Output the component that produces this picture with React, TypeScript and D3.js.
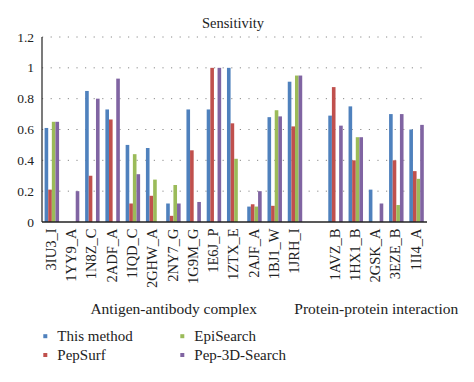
import React from "react";
import * as d3 from "d3";

const antigenCategories = ["3IU3_I", "1YY9_A", "1N8Z_C", "2ADF_A", "1IQD_C", "2GHW_A", "2NY7_G", "1G9M_G", "1E6J_P", "1ZTX_E", "2AJF_A", "1BJ1_W", "1JRH_I"];
const ppiCategories = ["1AVZ_B", "1HX1_B", "2GSK_A", "3EZE_B", "1II4_A"];
const categories = [...antigenCategories, ...ppiCategories];

const seriesNames = ["This method", "PepSurf", "EpiSearch", "Pep-3D-Search"];
const seriesColors = ["#4F81BD", "#C0504D", "#9BBB59", "#8064A2"];

const thisMethod = [0.61, 0, 0.85, 0.73, 0.5, 0.48, 0.12, 0.73, 0.73, 1.0, 0.1, 0.68, 0.91, 0.69, 0.75, 0.21, 0.7, 0.6];
const pepSurf = [0.21, 0, 0.3, 0.665, 0.12, 0.17, 0.04, 0.465, 1.0, 0.64, 0.115, 0.105, 0.62, 0.875, 0.4, 0, 0.4, 0.33];
const epiSearch = [0.65, 0, 0, 0, 0.44, 0.275, 0.24, 0, 0, 0.41, 0.1, 0.725, 0.95, 0, 0.55, 0, 0.11, 0.28];
const pep3DSearch = [0.65, 0.2, 0.8, 0.93, 0.31, 0, 0.12, 0.13, 1.0, 0, 0.2, 0.685, 0.95, 0.625, 0.55, 0.12, 0.7, 0.63];
const seriesValues = [thisMethod, pepSurf, epiSearch, pep3DSearch];

const yTicks = [0, 0.2, 0.4, 0.6, 0.8, 1, 1.2];
const groupLabels = ["Antigen-antibody complex", "Protein-protein interaction"];

const W = 474;
const H = 382;
const left = 42;
const right = 427;
const top = 37;
const bottom = 222;
const FONT = "'Liberation Serif', 'Times New Roman', Times, serif";

export default function App() {
  const slots = [...antigenCategories, "__gap__", ...ppiCategories];
  const x0 = d3.scaleBand<string>().domain(slots).range([left, right]).paddingInner(0).paddingOuter(0);
  const bw = x0.bandwidth();
  const x1 = d3.scaleBand<string>().domain(seriesNames).range([2.6, bw - 3.2]);
  const y = d3.scaleLinear().domain([0, 1.2]).range([bottom, top]);

  const antCenter = ((x0(antigenCategories[0]) ?? 0) + (x0(antigenCategories[antigenCategories.length - 1]) ?? 0) + bw) / 2;
  const ppiCenter = ((x0(ppiCategories[0]) ?? 0) + (x0(ppiCategories[ppiCategories.length - 1]) ?? 0) + bw) / 2;

  return (
    <svg width={W} height={H} style={{ position: "absolute", left: 0, top: 0, background: "#fff", fontFamily: FONT }}>
      <rect x={0} y={0} width={W} height={H} fill="#fff" />
      <text x={233} y={28} textAnchor="middle" fontSize={14.5} fill="#222">Sensitivity</text>
      {yTicks.filter((t) => t > 0).map((t) => (
        <line key={"g" + t} x1={left} x2={right} y1={y(t)} y2={y(t)} stroke="#8a8a8a" strokeWidth={1} strokeDasharray="1.2 7.4" />
      ))}
      {yTicks.map((t) => (
        <text key={"yt" + t} x={34} y={y(t) + 4.5} textAnchor="end" fontSize={13.5} fill="#222">{d3.format("")(t)}</text>
      ))}
      {categories.map((c, ci) => (
        <g key={c} transform={`translate(${x0(c)},0)`}>
          {seriesNames.map((s, si) => {
            const v = seriesValues[si][ci];
            if (!v) return null;
            return (
              <rect key={s} x={x1(s)} y={y(v)} width={x1.bandwidth()} height={y(0) - y(v)} fill={seriesColors[si]} />
            );
          })}
        </g>
      ))}
      <line x1={left} x2={left} y1={top} y2={bottom} stroke="#222" strokeWidth={1.2} />
      <line x1={left} x2={right} y1={bottom} y2={bottom} stroke="#222" strokeWidth={1.5} />
      {categories.map((c) => (
        <text key={"xl" + c} transform={`translate(${(x0(c) ?? 0) + bw / 2 + 3.8},${228.5}) rotate(-90)`} textAnchor="end" fontSize={14.5} fill="#222">{c}</text>
      ))}
      <text x={antCenter} y={314} textAnchor="middle" fontSize={15.5} fill="#222">{groupLabels[0]}</text>
      <text x={ppiCenter} y={314} textAnchor="middle" fontSize={15.5} fill="#222">{groupLabels[1]}</text>
      {seriesNames.map((s, i) => {
        const col = Math.floor(i / 2);
        const row = i % 2;
        const lx = 43.3 + col * 137;
        const ly = 336.2 + row * 18.8;
        return (
          <g key={"lg" + s}>
            <rect x={lx} y={ly - 2} width={4} height={4} fill={seriesColors[i]} />
            <text x={lx + 14} y={ly + 4.5} fontSize={15} fill="#222">{s}</text>
          </g>
        );
      })}
    </svg>
  );
}
